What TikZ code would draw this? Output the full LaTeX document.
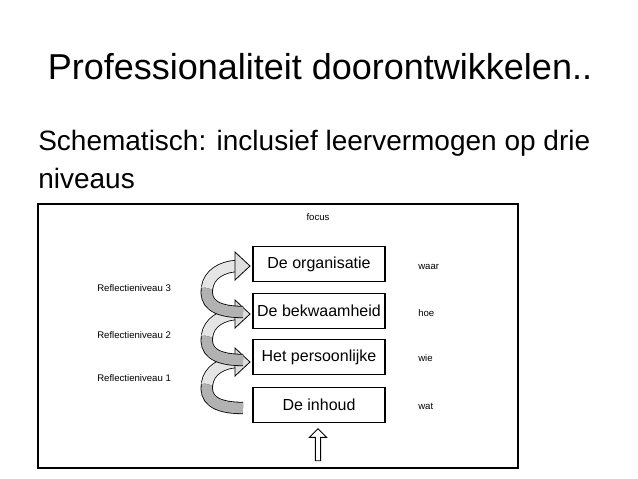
\documentclass[tikz,border=0pt]{standalone}
\usepackage{fontspec}
\setmainfont{Liberation Sans}
\usetikzlibrary{shapes.arrows}
\begin{document}
\begin{tikzpicture}[x=0.75pt,y=-0.75pt,
  lvl/.style={draw,line width=0.8pt,minimum width=99pt,minimum height=26pt,inner sep=0pt,font=\fontsize{12}{14}\selectfont},
  small/.style={font=\fontsize{7.2}{9}\selectfont,inner sep=0pt},
  spiral/.style={double=gray!45,double distance=8pt,line width=0.6pt},
  head/.style={draw,line width=0.6pt,fill=gray!25}]
\useasboundingbox (0,0) rectangle (638,478);
\node (title) at (320,67) {\fontsize{27}{30}\selectfont Professionaliteit doorontwikkelen..};
\node[anchor=west,inner sep=0pt] (sub1) at (38,143) {\fontsize{21}{24}\selectfont Schematisch: inclusief leervermogen op drie};
\node[anchor=west,inner sep=0pt] (sub2) at (38,178) {\fontsize{21}{24}\selectfont niveaus};
\node[draw,line width=0.8pt,minimum width=360pt,minimum height=198pt] (frame) at (278,336) {};
\node[small] (focus) at (318,217) {focus};
\node[lvl] (org) at (319,264) {De organisatie};
\node[lvl] (bek) at (319,311) {De bekwaamheid};
\node[lvl] (per) at (319,357) {Het persoonlijke};
\node[lvl] (inh) at (319,405) {De inhoud};
\node[small,anchor=west] (w1) at (418,267) {waar};
\node[small,anchor=west] (w2) at (418,313) {hoe};
\node[small,anchor=west] (w3) at (418,358) {wie};
\node[small,anchor=west] (w4) at (418,406) {wat};
\node[small,anchor=west] (r3) at (97,288) {Reflectieniveau 3};
\node[small,anchor=west] (r2) at (97,335) {Reflectieniveau 2};
\node[small,anchor=west] (r1) at (97,378) {Reflectieniveau 1};
\foreach \y in {408,360,312}{
  \draw[spiral,double=gray!60] (243,\y) .. controls (213,\y) and (205,{\y-10}) .. (207,{\y-24});
  \draw[spiral,double=gray!20] (207,{\y-24}) .. controls (209,{\y-38}) and (222,{\y-45}) .. (236,{\y-46});
  \path[head] (235,{\y-60}) -- (250,{\y-46}) -- (235,{\y-32}) -- cycle;
}
\node[single arrow,draw,line width=0.6pt,rotate=90,minimum height=24pt,minimum width=13pt,single arrow head extend=3pt,inner sep=1pt] (up) at (318,446) {};
\end{tikzpicture}
\end{document}
